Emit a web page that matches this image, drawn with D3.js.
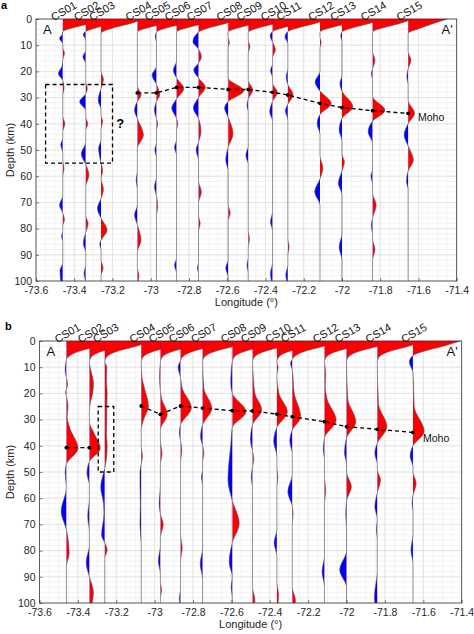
<!DOCTYPE html>
<html><head><meta charset="utf-8">
<script src="https://cdn.jsdelivr.net/npm/d3@7"></script>
<style>body{margin:0;background:#fff}svg{display:block;font-family:"Liberation Sans",Arial,sans-serif}</style>
</head><body><svg id="c" width="474" height="634"></svg>
<script>
const stations = ["CS01","CS02","CS03","CS04","CS05","CS06","CS07","CS08","CS09","CS10","CS11","CS12","CS13","CS14","CS15"];
const stationLon = [-73.46,-73.34,-73.26,-73.07,-72.97,-72.865,-72.75,-72.595,-72.49,-72.363,-72.283,-72.115,-72.0,-71.84,-71.654];
const lonTicks = [-73.6,-73.4,-73.2,-73,-72.8,-72.6,-72.4,-72.2,-72,-71.8,-71.6,-71.4];
const depthTicks = [0,10,20,30,40,50,60,70,80,90,100];
const mohoA = [null,null,null,28.2,28.2,26.1,26.1,26.9,26.9,28,29,32.2,33.8,35,36];
const mohoB = [40.7,40.7,null,24.8,28,24.8,25.6,26.6,26.7,27.9,28.9,30.8,32.7,33.7,34.9];
const boxLonA = [-73.55,-73.2], boxDepthA = [25,55];
const boxLonB = [-73.294,-73.213], boxDepthB = [25,50];

// receiver function traces: [depth (km), amplitude]
const rfA = [
[[0,1.0],[1.5,0.72],[3,0.35],[4.8,0],[6,-0.02],[7.4,-0.08],[9.5,0],[11,0],[13,0.04],[15.5,0],[18,-0.02],[20.8,-0.11],[23.5,0],[26.5,0.03],[29,0],[37,0],[40,0.05],[43,0],[45.5,0],[48,-0.05],[51,0],[54,0],[57,0.03],[60,0],[67.5,0],[71,-0.08],[74,0],[76.7,0.04],[79,0],[81,0],[83,-0.03],[85,0],[93,0],[96,-0.07],[100,-0.05]],
[[0,1.0],[1.5,0.72],[3,0.35],[4.8,0],[6,-0.06],[8,0],[12,0],[14.4,-0.07],[17,0],[24,0],[26.5,0.04],[28.5,0],[31.6,-0.15],[35,0],[37.5,0],[40,0.05],[42.5,0],[47,0],[51.5,-0.11],[55.5,0],[59.5,0.08],[64,0],[75,0],[78,0.06],[81.5,0],[85.7,-0.06],[89,0],[94,0],[97,-0.04],[100,0]],
[[0,1.05],[1.5,0.78],[3,0.4],[5.5,0],[20,0],[23,0.06],[26.5,0],[31,-0.07],[34.5,0],[37,0],[39,0.04],[42,0],[46,0],[49.4,-0.06],[52,-0.04],[55,0],[58,0.04],[61,0],[65,0.06],[68.5,0],[72.3,-0.09],[76,0],[80.6,0.15],[84.5,0],[86,-0.03],[88,0],[92,0],[95,0.05],[98,0],[100,0]],
[[0,1.0],[1.5,0.72],[3,0.35],[5,0],[25.5,0],[29,0.09],[31.5,0],[34.8,-0.07],[38,0],[44.3,0.15],[49.5,0],[58,0],[61.5,-0.03],[65,0],[71,0],[74.8,-0.07],[78.5,0],[84.4,0.09],[89,0],[95,0],[98,0.04],[100,0.02]],
[[0,1.0],[1.5,0.72],[3,0.35],[5,0],[6.8,-0.03],[9,0],[18,0],[21.4,-0.11],[25,0],[29,0.08],[31.5,0],[34.8,-0.05],[38,0],[40,0.03],[42.5,0],[47,0],[50,-0.04],[53,0],[60.5,0],[64,-0.05],[67.5,0],[71.7,0.03],[75,0],[100,0]],
[[0,1.0],[1.5,0.72],[3,0.35],[5,0],[16,0],[19.5,-0.08],[22.5,0],[26.5,0.18],[30.5,0],[34,-0.12],[38,0],[40,0.03],[42.5,0],[46,0],[49,-0.05],[52,0],[91,0],[94,-0.05],[97,0],[100,0]],
[[0,1.0],[1.5,0.72],[3,0.35],[5,0],[8.7,-0.14],[11.5,0],[14.4,0.07],[16.8,0],[19.5,-0.12],[22.5,0],[26,0.17],[30,0],[34,-0.13],[38,0],[43,0.06],[47,0],[50,-0.06],[54,0],[62,0],[66,0.07],[70,0],[75,0],[78,0.04],[81,0],[93,0],[95,-0.03],[97,0],[100,0]],
[[0,1.0],[1.5,0.72],[3,0.35],[5,0],[7,0],[9,0.03],[11,0],[22.5,0],[27.4,0.39],[31.5,0],[34,-0.09],[37.5,0],[43.7,0.12],[49,0],[53.8,-0.06],[58,0],[71,0],[74,0.05],[77,0],[92,0],[95,-0.06],[98.5,0],[100,0]],
[[0,1.0],[1.5,0.72],[3,0.35],[5,0],[8,0],[10.6,0.04],[13,0],[23.5,0],[27,0.11],[30.5,0],[33,-0.03],[35.5,0],[48.5,0],[52,-0.06],[55.5,0],[81,0],[84,0.03],[87,0],[91,0],[94,-0.03],[97,0],[100,0]],
[[0,1.0],[1.5,0.72],[3,0.35],[4.8,0],[6.5,-0.06],[8.8,0],[11.8,0.07],[14.8,0],[17,0],[19.7,-0.05],[22.5,0],[24.5,0],[28,0.12],[31.5,0],[35.4,-0.07],[39,0],[73.5,0],[77.4,-0.05],[81,0],[93,0],[97,-0.05],[100,-0.03]],
[[0,1.0],[1.5,0.72],[3,0.35],[4.8,0],[6.8,-0.07],[9.5,0],[19,0],[22,-0.04],[25,0],[29,0.13],[32.5,0],[35,-0.06],[38.5,0],[84,0],[87,0.03],[90,0],[94,0],[97.5,-0.05],[100,-0.03]],
[[0,1.0],[1.5,0.72],[3,0.35],[5,0],[7,0],[9,0.03],[11,0],[20,0],[24,-0.12],[27.5,0],[32.2,0.28],[36.5,0],[40,-0.07],[44,0],[52,0],[57,0.07],[61,0],[66,-0.13],[71,0],[100,0]],
[[0,1.0],[1.5,0.72],[3,0.35],[5,0],[6.5,-0.03],[8.5,0],[21.5,0],[24.5,-0.05],[27.5,0],[33.5,0.27],[38,0],[42.4,-0.07],[46.5,0],[51.5,0],[54.5,0.06],[58,0],[62.7,-0.09],[67,0],[82,0],[87,-0.07],[92,0],[100,0]],
[[0,1.0],[1.5,0.72],[3,0.35],[5,0],[12.5,0],[15.7,0.06],[19,0],[21,-0.03],[23,0],[29.5,0],[34.8,0.31],[39,0],[43,-0.11],[47.5,0],[57.5,0],[60,-0.04],[63,0],[66.5,0],[71,0.09],[76,0],[79,-0.03],[82,0],[84,0],[88,0.06],[92,0],[100,0]],
[[0,0.98],[1.6,0.65],[3.5,0.3],[5.5,0],[12.5,0],[15.7,0.07],[19,0],[22,-0.03],[25,0],[31,0],[36,0.16],[40,0],[44.3,-0.1],[48.5,0],[53.8,0.13],[58,0],[62,-0.04],[65,0],[100,0]]
];
const rfB = [
[[0,1.15],[2,0.78],[4,0.3],[6,0.05],[7.3,0],[11,-0.03],[14,0],[16.5,0.03],[18.5,0],[19.5,-0.02],[21,0],[25,0.04],[29,0.02],[33,0.08],[41,0.29],[47,0],[50,-0.03],[56,0],[65,-0.13],[72,0],[81,0.07],[86,0],[100,0]],
[[0,1.15],[2,0.78],[4,0.3],[6,0.05],[8,0],[12,0.05],[16,0.1],[20,0.08],[23,0.03],[27,0],[31,0],[35,0.11],[41,0.27],[46,0],[50.5,-0.06],[55,0],[60,0],[67,-0.04],[73,0],[78,0],[84.5,-0.08],[90,0],[96,0.1],[100,0.07]],
[[0,1.15],[2,0.78],[4,0.3],[6,0.05],[8,0],[10,0.05],[15,0.04],[20,0.06],[25,0.05],[30,0.05],[35,0.04],[40,0.06],[45,0.04],[48.5,0],[55.8,-0.1],[62,-0.03],[66,-0.02],[74,-0.08],[77,0],[79.7,0.06],[83,0],[100,0]],
[[0,1.15],[2,0.78],[4,0.3],[6,0.05],[8,0],[14,0.02],[18,0.08],[24.8,0.18],[30,0.06],[34,0],[40,0],[44,0.03],[47,0],[50,-0.03],[55,-0.03],[62,-0.02],[70,-0.03],[78,0],[100,0]],
[[0,1.15],[2,0.78],[4,0.3],[6,0.05],[8,0],[14,-0.02],[19,0],[22,0.03],[28,0.17],[34,0],[38,0],[43,0.04],[47,0],[55,0],[62,-0.03],[66,0],[70,0.07],[75,0],[78,0],[84,-0.05],[89,0],[92,0],[95,0.03],[98,0],[100,0]],
[[0,1.15],[2,0.78],[4,0.3],[6,0.05],[7.5,0],[10,-0.06],[14,0],[18,0.04],[25.5,0.27],[32,0],[35,-0.03],[38,0],[42,0.03],[46,0],[74,0],[79,0.04],[84,0],[95,0],[98,-0.03],[100,-0.02]],
[[0,1.15],[2,0.78],[4,0.3],[6,0.05],[8,0],[18,0.03],[25.7,0.23],[32,0],[36.5,-0.05],[40,0],[43,0.03],[46,0],[49,0],[52,-0.03],[55,0],[79,0],[85,-0.06],[91,0],[100,0]],
[[0,1.15],[2,0.78],[4,0.3],[6,0.05],[8,0],[12,-0.03],[16,-0.04],[20,0],[27,0.34],[33,0],[40,-0.04],[47,-0.09],[53,-0.11],[61,0],[69.6,0.17],[77,0],[84.5,-0.08],[90,0],[94,-0.03],[98,0],[100,0]],
[[0,1.15],[2,0.78],[4,0.3],[6,0.05],[8,0],[14,0.02],[20,0.06],[26.3,0.23],[32,0],[37.8,-0.05],[42,0],[45,0.03],[48,0],[52,-0.03],[56,0],[94,0],[99,0.06],[100,0.05]],
[[0,1.15],[2,0.78],[4,0.3],[6,0.05],[8,0],[10,0.03],[13,0],[20,0.05],[27,0.26],[33,0],[38.4,-0.08],[44,0],[48,0],[52,0.02],[56,0],[72,0],[77,-0.07],[82,0],[92,0],[97,0.04],[100,0.03]],
[[0,1.15],[2,0.78],[4,0.3],[6,0.05],[7,0],[8.5,-0.04],[11,0],[20,0.05],[28.9,0.21],[34,0],[38.4,-0.06],[43,0],[51,0],[57.5,-0.11],[63,0],[66,0.02],[70,0],[94,0],[99,0.08],[100,0.07]],
[[0,1.15],[2,0.78],[4,0.3],[6,0.05],[8,0],[12,0.03],[17,0.02],[22,0.06],[30.2,0.29],[37,0],[41.6,-0.03],[45,0],[52,0],[57,0.03],[62,0],[82,0],[88,-0.06],[94,0],[100,0]],
[[0,1.15],[2,0.78],[4,0.3],[6,0.05],[8,0],[22,0.03],[30.8,0.23],[37,0],[42.8,-0.05],[47,0],[50,0],[55.6,0.12],[61,0],[66,-0.02],[72,0],[80,0],[87.4,-0.17],[94,0],[100,0]],
[[0,1.15],[2,0.78],[4,0.3],[6,0.05],[8,0],[24,0.03],[32.7,0.24],[39,0],[42.8,-0.06],[47,0],[49,0],[53,0.08],[58,0],[63.2,-0.06],[68,0],[72,-0.02],[76,0],[88,0],[97.6,-0.07],[100,-0.06]],
[[0,1.18],[2,0.75],[4,0.25],[5.5,0],[8,-0.09],[12,0],[25,0.03],[34.5,0.28],[40,0],[44,-0.07],[48,0],[50,0],[54.3,0.08],[59,0],[62,-0.02],[65,0],[74,0],[79.8,-0.05],[85,0],[100,0]]
];

const svg = d3.select("#c");
const TXT = "#262626";

const panels = [
  {key:"a", l:36, r:456.7, t:19, b:281, rf:rfA, moho:mohoA, boxLon:boxLonA, boxDepth:boxDepthA,
   labX:1, labY:9, mohoX:418, mohoY:117, xlabY:306, q:true},
  {key:"b", l:39.5, r:461.7, t:341, b:603, rf:rfB, moho:mohoB, boxLon:boxLonB, boxDepth:boxDepthB,
   labX:5, labY:330, mohoX:423, mohoY:438, xlabY:628, q:false}
];

panels.forEach((P, pi) => {
  const g = svg.append("g");
  const x = d3.scaleLinear().domain([-73.6,-71.4]).range([P.l,P.r]);
  const y = d3.scaleLinear().domain([0,100]).range([P.t,P.b]);
  const amp = d3.scaleLinear().domain([0,1]).range([0,40]);

  // grid
  const grid = g.append("g");
  const minorX = d3.range(0,45).map(i => -73.6 + i*0.05);
  const minorY = d3.range(0,51).map(i => i*2);
  grid.selectAll(".mx").data(minorX).join("line")
    .attr("x1",d=>x(d)).attr("x2",d=>x(d)).attr("y1",P.t).attr("y2",P.b)
    .attr("stroke","#ededed").attr("stroke-width",0.6);
  grid.selectAll(".my").data(minorY).join("line")
    .attr("y1",d=>y(d)).attr("y2",d=>y(d)).attr("x1",P.l).attr("x2",P.r)
    .attr("stroke","#ededed").attr("stroke-width",0.6);
  grid.selectAll(".Mx").data(lonTicks).join("line")
    .attr("x1",d=>x(d)).attr("x2",d=>x(d)).attr("y1",P.t).attr("y2",P.b)
    .attr("stroke","#d9d9d9").attr("stroke-width",0.6);
  grid.selectAll(".My").data(depthTicks).join("line")
    .attr("y1",d=>y(d)).attr("y2",d=>y(d)).attr("x1",P.l).attr("x2",P.r)
    .attr("stroke","#d9d9d9").attr("stroke-width",0.6);

  // traces
  const defs = svg.append("defs");
  P.rf.forEach((tr, i) => {
    const bx = x(stationLon[i]);
    const area = d3.area().curve(d3.curveMonotoneY)
      .y(d=>y(d[0])).x0(bx).x1(d=>bx+amp(d[1]));
    const line = d3.line().curve(d3.curveMonotoneY)
      .x(d=>bx+amp(d[1])).y(d=>y(d[0]));
    const idP = `cp${pi}_${i}`, idN = `cn${pi}_${i}`;
    defs.append("clipPath").attr("id",idP).append("rect")
      .attr("x",bx).attr("y",P.t).attr("width",P.r-bx).attr("height",P.b-P.t);
    defs.append("clipPath").attr("id",idN).append("rect")
      .attr("x",P.l).attr("y",P.t).attr("width",bx-P.l).attr("height",P.b-P.t);
    const tg = g.append("g");
    tg.append("path").attr("d",area(tr)).attr("fill","#ff0000").attr("clip-path",`url(#${idP})`);
    tg.append("path").attr("d",area(tr)).attr("fill","#0000ff").attr("clip-path",`url(#${idN})`);
    tg.append("path").attr("d",line(tr)).attr("fill","none").attr("stroke","#4a4a4a").attr("stroke-width",0.6);
    // station label
    g.append("text").attr("transform",`translate(${bx+1},${P.t-8}) rotate(-30)`)
      .attr("text-anchor","middle").attr("dy","0.35em")
      .attr("font-size",11).attr("fill","#111").text(stations[i]);
  });

  // Moho picks
  const mline = d3.line().defined(d=>d.v!=null).x(d=>x(stationLon[d.i])).y(d=>y(d.v));
  const mdata = P.moho.map((v,i)=>({i,v}));
  g.append("path").attr("d",mline(mdata)).attr("fill","none")
    .attr("stroke","#000").attr("stroke-width",1.3).attr("stroke-dasharray","4,3");
  g.selectAll(".dot").data(mdata.filter(d=>d.v!=null)).join("circle")
    .attr("cx",d=>x(stationLon[d.i])).attr("cy",d=>y(d.v)).attr("r",1.9).attr("fill","#000");
  g.append("text").attr("x",P.mohoX).attr("y",P.mohoY).attr("dy","0.35em")
    .attr("font-size",10.5).attr("fill","#111").text("Moho");

  // dashed box
  g.append("rect").attr("x",x(P.boxLon[0])).attr("y",y(P.boxDepth[0]))
    .attr("width",x(P.boxLon[1])-x(P.boxLon[0])).attr("height",y(P.boxDepth[1])-y(P.boxDepth[0]))
    .attr("fill","none").attr("stroke","#000").attr("stroke-width",1.3).attr("stroke-dasharray","4,3");
  if (P.q) g.append("text").attr("x",x(-73.16)).attr("y",y(40)).attr("dy","0.35em")
    .attr("text-anchor","middle").attr("font-size",13).attr("font-weight","bold").text("?");

  // A / A'
  g.append("text").attr("x",P.l+7).attr("y",P.t+10).attr("dy","0.35em")
    .attr("font-size",13).attr("fill","#111").text("A");
  g.append("text").attr("x",P.r-4).attr("y",P.t+10).attr("dy","0.35em")
    .attr("text-anchor","end").attr("font-size",13).attr("fill","#111").text("A'");

  // axes
  const xa = g.append("g").attr("transform",`translate(0,${P.b})`)
    .call(d3.axisBottom(x).tickValues(lonTicks).tickFormat(d=>String(d)).tickSizeInner(-3).tickSizeOuter(0).tickPadding(6));
  const ya = g.append("g").attr("transform",`translate(${P.l},0)`)
    .call(d3.axisLeft(y).tickValues(depthTicks).tickFormat(d=>String(d)).tickSizeInner(-3).tickSizeOuter(0).tickPadding(4));
  [xa,ya].forEach(a=>{
    a.select(".domain").remove();
    a.selectAll("line").attr("stroke",TXT).attr("stroke-width",0.6);
    a.selectAll("text").attr("font-size",10.5).attr("fill",TXT).attr("font-family","'Liberation Sans',Arial,sans-serif");
  });
  g.append("rect").attr("x",P.l).attr("y",P.t).attr("width",P.r-P.l).attr("height",P.b-P.t)
    .attr("fill","none").attr("stroke",TXT).attr("stroke-width",0.7);

  g.append("text").attr("transform",`translate(10,${(P.t+P.b)/2}) rotate(-90)`)
    .attr("text-anchor","middle").attr("dy","0.35em").attr("font-size",11).attr("fill",TXT).text("Depth (km)");
  g.append("text").attr("x",(P.l+P.r)/2).attr("y",P.xlabY).attr("text-anchor","middle")
    .attr("font-size",11).attr("fill",TXT).text("Longitude (°)");

  svg.append("text").attr("x",P.labX).attr("y",P.labY).attr("font-size",11)
    .attr("font-weight","bold").attr("fill","#000").text(P.key);
});
</script></body></html>
